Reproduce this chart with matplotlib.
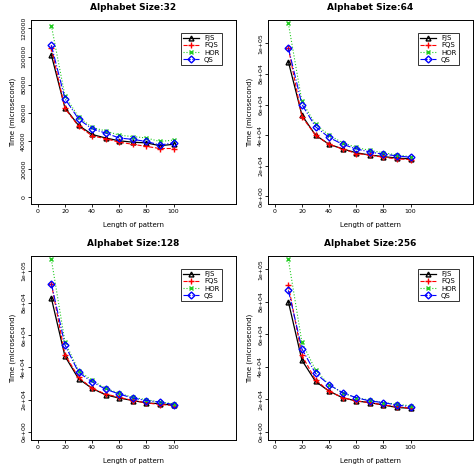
import matplotlib
matplotlib.use("Agg")
import matplotlib.pyplot as plt

x = [10,20,30,40,50,60,70,80,90,100]
titles = ["Alphabet Size:32","Alphabet Size:64","Alphabet Size:128","Alphabet Size:256"]
FJS = [[101000,63500,51000,44500,42000,40000,39000,38500,36500,37500],
       [88000,53000,40000,34000,31000,28500,27000,26000,25000,24500],
       [83000,47000,33000,27000,23000,21000,19500,18000,17500,16500],
       [80000,44000,31000,25000,21000,19000,18000,16500,15000,14500]]
FQS = [[106000,63000,50500,43500,41500,39000,37500,36000,34500,34500],
       [97000,52000,40000,34000,31000,28000,27000,25500,24500,24000],
       [92000,48000,34000,27000,23500,21500,19500,18000,17000,16500],
       [90000,47000,32000,25000,21000,19000,18000,16500,15500,14500]]
HOR = [[122000,72000,57000,49500,47000,44000,43000,42000,39500,40500],
       [113000,62000,47000,40000,35000,32000,30000,28500,27000,26000],
       [107000,56000,38000,32000,27000,24000,21500,20000,18500,17500],
       [106000,55000,38000,29000,24000,21000,19500,18000,17000,16000]]
QS = [[108000,70000,55500,48500,45500,42000,41000,39500,37000,38500],
      [97000,60000,45500,38500,34000,31000,29000,27500,26500,25500],
      [92000,54000,37000,31000,26500,23500,21000,19500,18500,17000],
      [87000,51000,36000,29000,24000,21000,19000,18000,16500,15500]]
yticks32 = [0,20000,40000,60000,80000,100000,120000]
yticks_e = [0,20000,40000,60000,80000,100000]
ylabels_e = ["0e+00","2e+04","4e+04","6e+04","8e+04","1e+05"]

W, H = 474, 472
fig = plt.figure(figsize=(4.74, 4.72), dpi=100)
offsets = [(0, 0), (237, 0), (0, 236), (237, 236)]
for i, (ox, oy) in enumerate(offsets):
    l, r, t, b = ox + 31, ox + 236, oy + 20, oy + 204
    ax = fig.add_axes([l / W, 1 - b / H, (r - l) / W, (b - t) / H])
    ax.plot(x, FJS[i], color="black", ls="-", marker="^", ms=3.5, mfc="none", lw=0.9, label="FJS")
    ax.plot(x, FQS[i], color="red", ls="--", marker="+", ms=4.5, lw=0.8, label="FQS")
    ax.plot(x, HOR[i], color="#22cc22", ls=":", marker="x", ms=3.5, lw=0.8, label="HOR")
    ax.plot(x, QS[i], color="blue", ls="-.", marker="D", ms=3.5, mfc="none", lw=0.8, label="QS")
    ax.set_xlim(-5, 146)
    ax.set_xticks([0,20,40,60,80,100])
    top = 126000 if i == 0 else max(HOR[i]) * 1.02
    ax.set_ylim(-5000, top)
    if i == 0:
        ax.set_yticks(yticks32)
        ax.set_yticklabels([str(v) for v in yticks32])
    else:
        ax.set_yticks(yticks_e)
        ax.set_yticklabels(ylabels_e)
    for lab in ax.get_yticklabels():
        lab.set_rotation(90); lab.set_va("center")
    ax.tick_params(labelsize=4.5, length=2, pad=1.5, width=0.6)
    ax.set_title(titles[i], fontsize=6.5, fontweight="bold", pad=7)
    ax.set_xlabel("Length of pattern", fontsize=5, labelpad=6)
    ax.set_ylabel("Time (microsecond)", fontsize=5, labelpad=4)
    leg = ax.legend(loc="upper right", fontsize=5, fancybox=False, edgecolor="black",
                    handlelength=2.2, borderpad=0.4, labelspacing=0.15, bbox_to_anchor=(0.95, 0.95))
    leg.get_frame().set_linewidth(0.7)
    for s in ax.spines.values():
        s.set_linewidth(0.7)
fig.savefig("out.png", dpi=100)
